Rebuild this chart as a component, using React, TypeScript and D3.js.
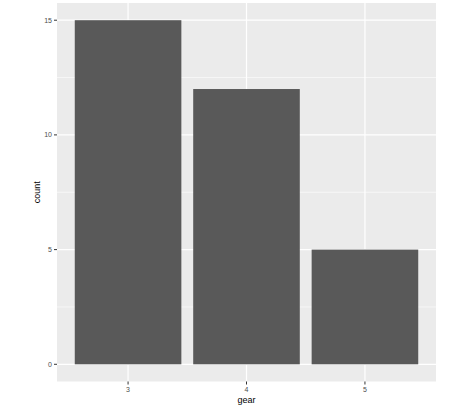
import { useEffect, useRef } from 'react';
import * as d3 from 'd3';

const gears = ['3', '4', '5'];
const counts = [15, 12, 5];
const yTicks = [0, 5, 10, 15];
const yMinor = [2.5, 7.5, 12.5];

const W = 474;
const H = 412;

export default function App() {
  const svgRef = useRef<SVGSVGElement>(null);

  useEffect(() => {
    if (!svgRef.current) return;
    const svg = d3.select(svgRef.current);
    svg.selectAll('*').remove();

    const left = 57;
    const right = 436;
    const top = 3;
    const bottom = 381.5;

    // ggplot-like expansion: 0.6 on discrete, 5% on continuous
    const x = d3.scaleLinear().domain([0.4, gears.length + 0.6]).range([left, right]);
    const y = d3.scaleLinear().domain([-0.75, 15.75]).range([bottom, top]);

    svg.append('rect')
      .attr('x', left).attr('y', top)
      .attr('width', right - left).attr('height', bottom - top)
      .attr('fill', '#EBEBEB');

    // minor grid
    svg.selectAll('.minor')
      .data(yMinor)
      .enter()
      .append('line')
      .attr('x1', left).attr('x2', right)
      .attr('y1', (d) => y(d)).attr('y2', (d) => y(d))
      .attr('stroke', '#FFFFFF').attr('stroke-width', 0.6);

    // major grid
    svg.selectAll('.majorY')
      .data(yTicks)
      .enter()
      .append('line')
      .attr('x1', left).attr('x2', right)
      .attr('y1', (d) => y(d)).attr('y2', (d) => y(d))
      .attr('stroke', '#FFFFFF').attr('stroke-width', 1.2);

    svg.selectAll('.majorX')
      .data(gears)
      .enter()
      .append('line')
      .attr('x1', (_d, i) => x(i + 1)).attr('x2', (_d, i) => x(i + 1))
      .attr('y1', top).attr('y2', bottom)
      .attr('stroke', '#FFFFFF').attr('stroke-width', 1.2);

    // bars
    svg.selectAll('.bar')
      .data(counts)
      .enter()
      .append('rect')
      .attr('x', (_d, i) => x(i + 1 - 0.45))
      .attr('width', x(0.9) - x(0))
      .attr('y', (d) => y(d))
      .attr('height', (d) => y(0) - y(d))
      .attr('fill', '#595959');

    const font = 'Liberation Sans, Arial, sans-serif';

    // y ticks
    const yt = svg.selectAll('.yt').data(yTicks).enter().append('g');
    yt.append('line')
      .attr('x1', left - 3).attr('x2', left)
      .attr('y1', (d) => y(d)).attr('y2', (d) => y(d))
      .attr('stroke', '#333333').attr('stroke-width', 1);
    yt.append('text')
      .attr('x', left - 5)
      .attr('y', (d) => y(d))
      .attr('dy', '0.35em')
      .attr('text-anchor', 'end')
      .attr('font-family', font)
      .attr('font-size', 7)
      .attr('fill', '#4D4D4D')
      .text((d) => d);

    // x ticks
    const xt = svg.selectAll('.xt').data(gears).enter().append('g');
    xt.append('line')
      .attr('x1', (_d, i) => x(i + 1)).attr('x2', (_d, i) => x(i + 1))
      .attr('y1', bottom).attr('y2', bottom + 3)
      .attr('stroke', '#333333').attr('stroke-width', 1);
    xt.append('text')
      .attr('x', (_d, i) => x(i + 1))
      .attr('y', bottom + 10)
      .attr('text-anchor', 'middle')
      .attr('font-family', font)
      .attr('font-size', 7)
      .attr('fill', '#4D4D4D')
      .text((d) => d);

    // axis titles
    svg.append('text')
      .attr('x', (left + right) / 2)
      .attr('y', 403)
      .attr('text-anchor', 'middle')
      .attr('font-family', font)
      .attr('font-size', 9)
      .attr('fill', '#000000')
      .text('gear');

    svg.append('text')
      .attr('transform', `translate(40,${(top + bottom) / 2}) rotate(-90)`)
      .attr('text-anchor', 'middle')
      .attr('font-family', font)
      .attr('font-size', 9)
      .attr('fill', '#000000')
      .text('count');
  }, []);

  return (
    <svg
      ref={svgRef}
      width={W}
      height={H}
      style={{ position: 'absolute', left: 0, top: 0, background: '#FFFFFF' }}
    />
  );
}
